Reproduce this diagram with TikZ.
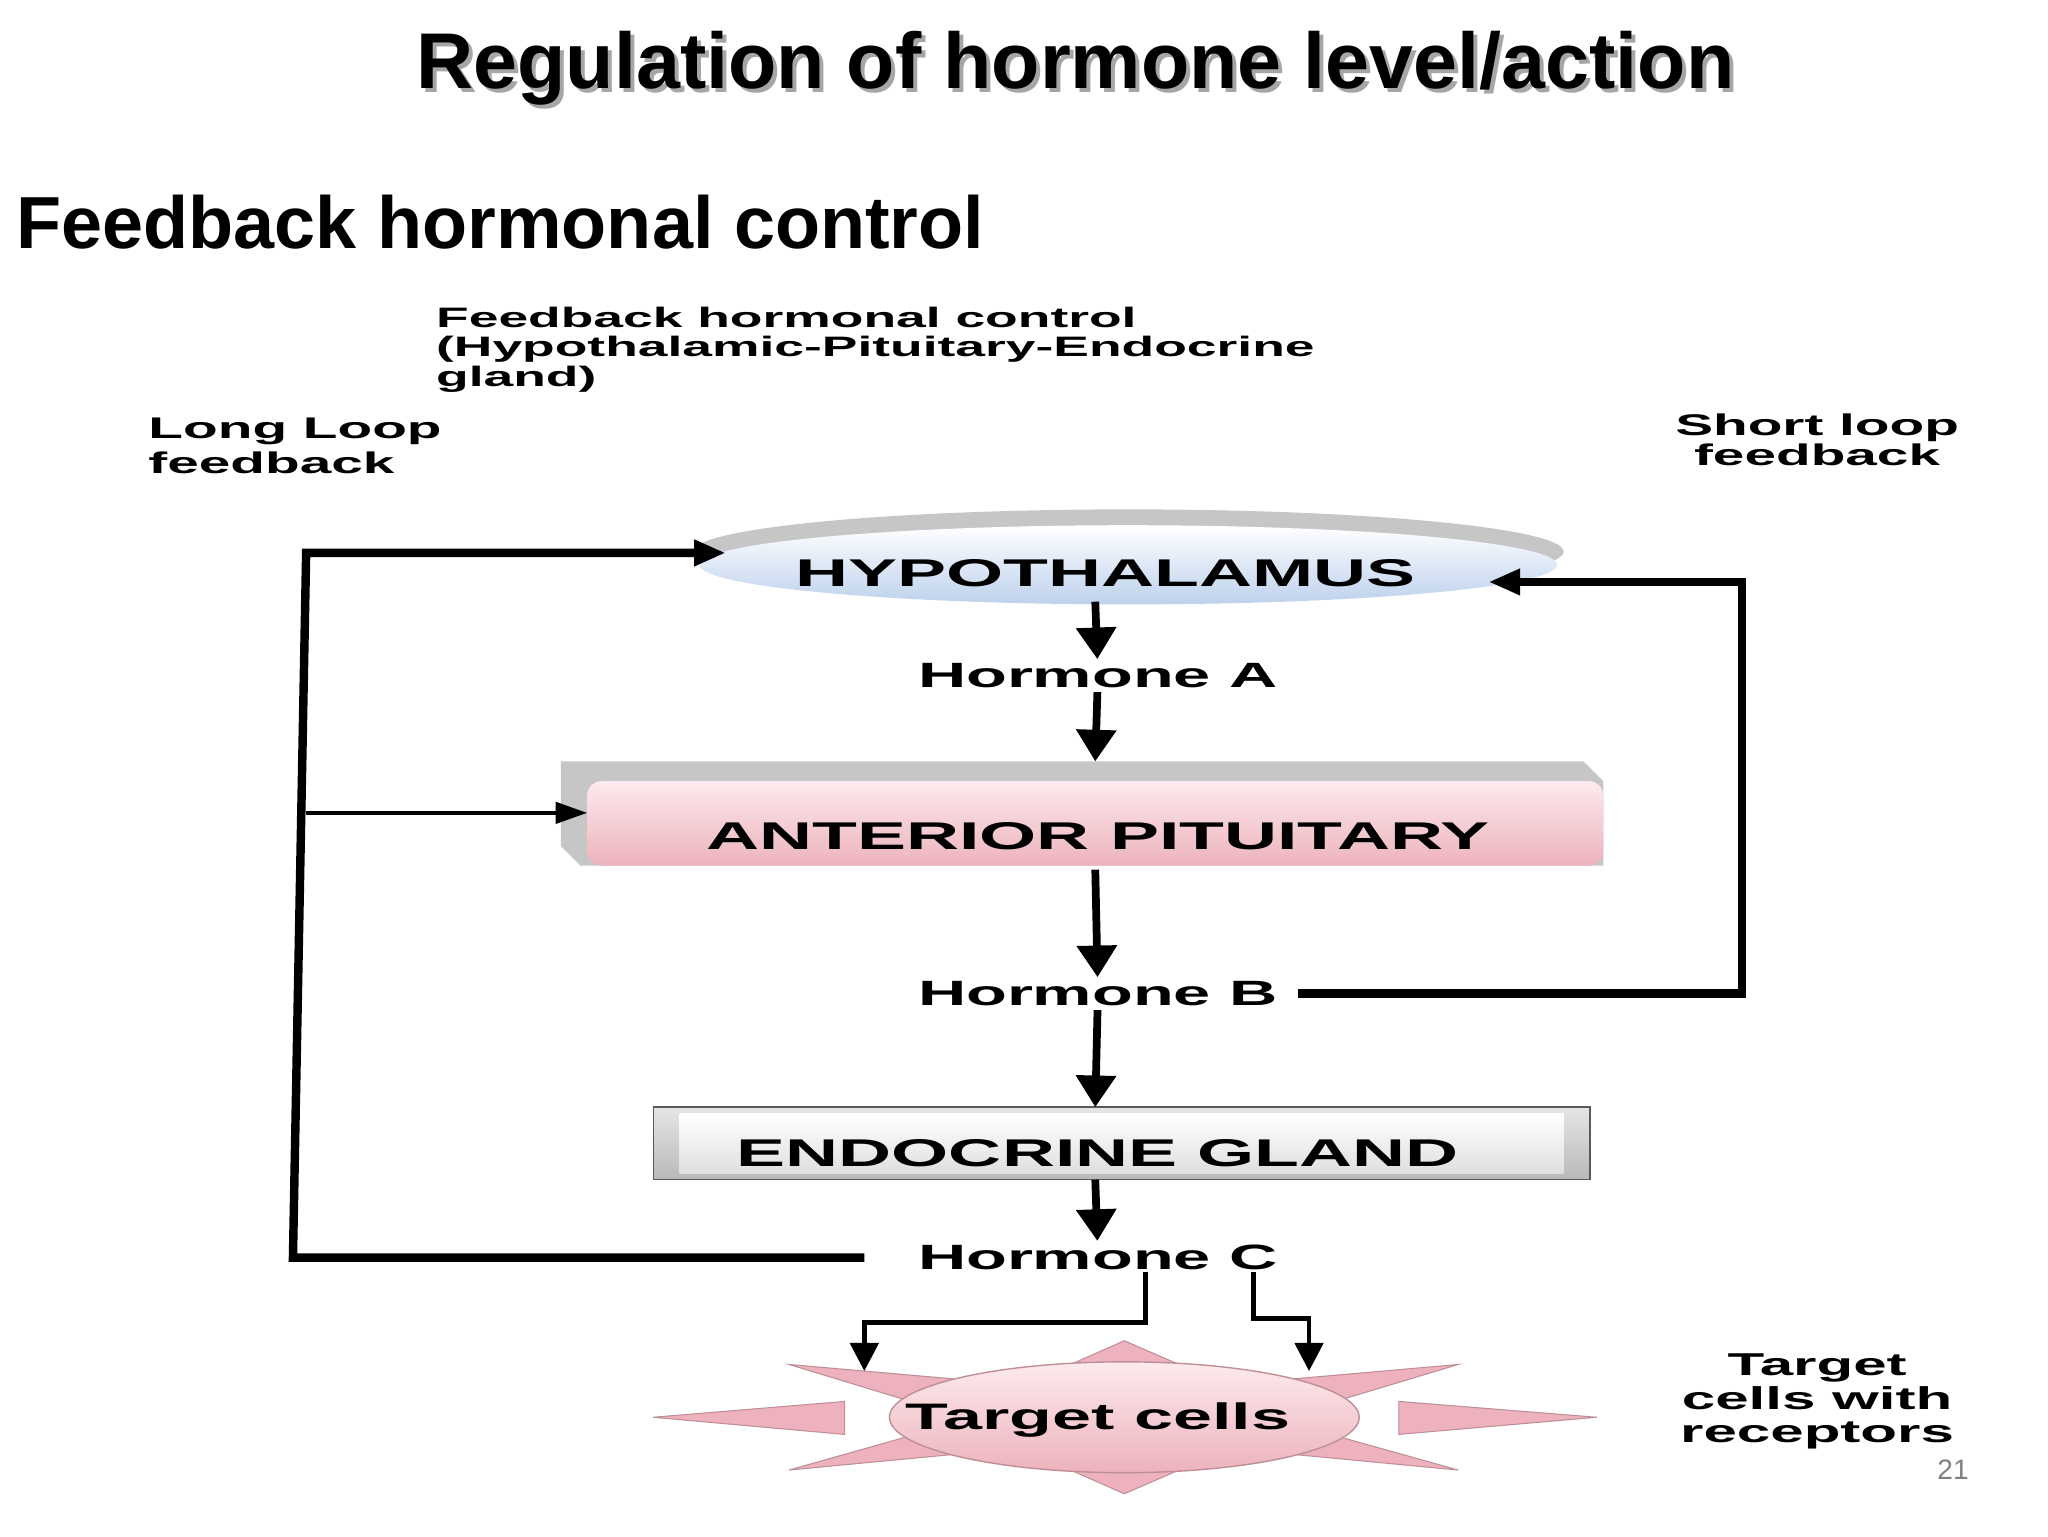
\documentclass[tikz,border=0pt]{standalone}
\usepackage{fontspec}
\setmainfont{Liberation Sans}
\usetikzlibrary{arrows.meta,shapes.geometric}
\newcommand{\wide}[1]{\scalebox{1.9}[1]{#1}}
\definecolor{mpink}{rgb}{0.93, 0.70, 0.74}
\definecolor{mlpink}{rgb}{0.99, 0.92, 0.93}
\definecolor{mblue}{rgb}{0.74, 0.82, 0.93}
\tikzset{lbl/.style = {font=\bfseries\fontsize{10}{12}\selectfont, inner sep=1pt}}
\tikzset{down/.style = {line width=2.2pt, -{Triangle[length=9pt,width=11pt]}}}
\tikzset{loop/.style = {line width=2.4pt}}
\tikzset{thin/.style = {line width=1.3pt, -{Triangle[length=8pt,width=8pt]}}}
\tikzset{ray/.style = {fill=mpink, draw=mpink!80!black, line width=0.3pt}}
\begin{document}
\begin{tikzpicture}[x=0.0132cm, y=-0.0132cm]
    \useasboundingbox (0, 0) rectangle (1552, 1164);

    % titles
    \node [gray!70, font=\bfseries\fontsize{22.5}{26}\selectfont] at (818, 55) {Regulation of hormone level/action};
    \node (title) [font=\bfseries\fontsize{22.5}{26}\selectfont] at (815, 52) {Regulation of hormone level/action};
    \node (sub) [anchor=west, inner sep=0, font=\bfseries\fontsize{21}{24}\selectfont] at (12, 168) {Feedback hormonal control};
    \node (cap) [anchor=north west, inner sep=0, align=left, font=\bfseries\fontsize{8}{8.4}\selectfont] at (330, 232)
      {\wide{Feedback hormonal control}\\\wide{(Hypothalamic-Pituitary-Endocrine}\\\wide{gland)}};
    \node (longl) [anchor=north west, inner sep=0, align=left, font=\bfseries\fontsize{8.5}{10}\selectfont] at (112, 316)
      {\wide{Long Loop}\\\wide{feedback}};
    \node (shortl) [inner sep=0, align=center, font=\bfseries\fontsize{8.5}{8.5}\selectfont] at (1377, 333)
      {\wide{Short loop}\\\wide{feedback}};

    % hypothalamus
    \fill [gray!45] (855, 418) ellipse [x radius=330, y radius=32];
    \shade [top color=white, bottom color=mblue] (855, 428) ellipse [x radius=325, y radius=30];
    \node (hyp) [lbl, font=\bfseries\fontsize{11}{12}\selectfont] at (838, 434) {\wide{HYPOTHALAMUS}};
    \coordinate (hypS) at (830, 456);

    \node (hA) [lbl] at (832, 512) {\wide{Hormone A}};

    % anterior pituitary
    \fill [gray!45] (425, 577) -- (1200, 577) -- (1215, 592) -- (1215, 656) -- (440, 656) -- (425, 641) -- cycle;
    \shade [top color=mlpink, bottom color=mpink, rounded corners=4pt] (445, 592) rectangle (1215, 656);
    \node (pit) [lbl, font=\bfseries\fontsize{11}{12}\selectfont] at (832, 634) {\wide{ANTERIOR PITUITARY}};
    \coordinate (pitN) at (830, 577);
    \coordinate (pitS) at (830, 659);
    \coordinate (pitW) at (445, 616);

    \node (hB) [lbl] at (832, 753) {\wide{Hormone B}};

    % endocrine gland
    \shade [top color=gray!20, bottom color=gray!55, draw=gray!70!black] (495, 839) rectangle (1205, 894);
    \shade [top color=white, bottom color=gray!25] (515, 844) rectangle (1185, 889);
    \node (endo) [lbl, font=\bfseries\fontsize{11}{12}\selectfont] at (832, 874) {\wide{ENDOCRINE GLAND}};
    \coordinate (endoN) at (830, 839);
    \coordinate (endoS) at (830, 894);

    \node (hC) [lbl] at (832, 953) {\wide{Hormone C}};

    % target cells
    \fill [ray] (800, 1039) -- (905, 1039) -- (852, 1016) -- cycle;
    \fill [ray] (800, 1109) -- (905, 1109) -- (852, 1132) -- cycle;
    \fill [ray] (640, 1062) -- (640, 1087) -- (495, 1074) -- cycle;
    \fill [ray] (1060, 1062) -- (1060, 1087) -- (1210, 1074) -- cycle;
    \fill [ray] (598, 1034) -- (735, 1046) -- (690, 1062) -- cycle;
    \fill [ray] (598, 1114) -- (735, 1101) -- (690, 1088) -- cycle;
    \fill [ray] (1105, 1034) -- (968, 1046) -- (1012, 1062) -- cycle;
    \fill [ray] (1105, 1114) -- (968, 1101) -- (1012, 1088) -- cycle;
    \shade [top color=mlpink, bottom color=mpink, draw=mpink!80!black] (852, 1074) ellipse [x radius=178, y radius=42];
    \node (tc) [lbl, font=\bfseries\fontsize{10.5}{12}\selectfont] at (832, 1076) {\wide{Target cells}};
    \node (tcr) [inner sep=0, align=center, font=\bfseries\fontsize{9}{9.5}\selectfont] at (1377, 1062)
      {\wide{Target}\\\wide{cells with}\\\wide{receptors}};
    \node (pg) [gray, font=\fontsize{8}{9}\selectfont] at (1480, 1114) {21};

    % main chain
    \draw [down] (hypS) -- (hA);
    \draw [down] (hA) -- (pitN);
    \draw [down] (pitS) -- (hB);
    \draw [down] (hB) -- (endoN);
    \draw [down] (endoS) -- (hC);

    % long loop
    \coordinate (cL1) at (655, 953);
    \coordinate (cL2) at (222, 953);
    \coordinate (cL3) at (232, 419);
    \coordinate (cL4) at (232, 616);
    \draw [loop, -{Triangle[length=9pt,width=7pt]}] (cL1) -- (cL2) -- (cL3) -- (550, 419);
    \draw [line width=1.2pt, -{Triangle[length=9pt,width=6pt]}] (cL4) -- (pitW);

    % short loop
    \draw [loop, -{Triangle[length=9pt,width=7pt]}] (hB.east) ++(12, 0) -- (1320, 753) -- (1320, 441) -- (1128, 441);

    % branches to target cells
    \draw [thin] (868, 964) -- (868, 1002) -- (655, 1002) -- (655, 1039);
    \draw [thin] (950, 964) -- (950, 999) -- (992, 999) -- (992, 1039);
\end{tikzpicture}
\end{document}
